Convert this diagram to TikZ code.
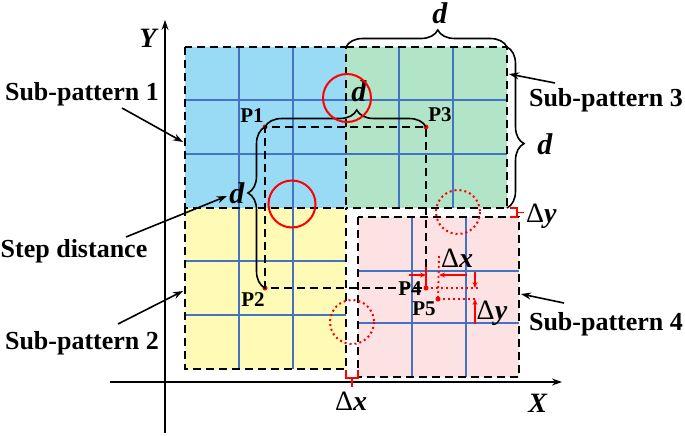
\documentclass[tikz,border=0pt]{standalone}
\usepackage{fontspec}
\setmainfont{Liberation Serif}
\usetikzlibrary{arrows.meta,decorations.pathreplacing}
\definecolor{cblue}{RGB}{153,218,245}
\definecolor{cgreen}{RGB}{178,228,200}
\definecolor{cyellow}{RGB}{255,250,182}
\definecolor{cpink}{RGB}{252,226,226}
\definecolor{gridc}{RGB}{68,114,196}
\newcommand{\bi}[1]{\textbf{\textit{#1}}}
\begin{document}
\begin{tikzpicture}[x=1pt,y=-1pt,
  gridln/.style={gridc,line width=2pt},
  border/.style={black,line width=2.3pt,dash pattern=on 8pt off 5pt},
  lbl/.style={font=\fontsize{26}{28}\selectfont\bfseries,inner sep=0pt},
  plbl/.style={font=\fontsize{21}{23}\selectfont\bfseries,inner sep=0pt},
  mlbl/.style={font=\fontsize{30}{32}\selectfont,inner sep=0pt},
  dlbl/.style={font=\fontsize{28}{30}\selectfont,inner sep=0pt},
  ann/.style={black,line width=1.6pt,-{Stealth[length=10pt,width=7pt]}},
  axisln/.style={black,line width=1.6pt},
  brc/.style={decorate,black,line width=1.6pt,decoration={brace,amplitude=17pt,aspect=#1}},
  ptdot/.style={circle,fill=red,inner sep=0pt,minimum size=5pt},
  redc/.style={red,line width=1.8pt},
  redd/.style={red,line width=1.8pt,dash pattern=on 2pt off 3pt},
  reda/.style={red,line width=1.8pt,-{Stealth[length=6pt,width=5pt]}},
  redcircle/.style={red,line width=2pt},
  dotcircle/.style={red,line width=2pt,dash pattern=on 2pt off 3pt}
]
\useasboundingbox (0,0) rectangle (685,436);

% fills
\fill[cblue] (185,47) rectangle (346,208);
\fill[cgreen] (346,47) rectangle (507,208);
\fill[cyellow] (185,208) rectangle (346,369);
\fill[cpink] (358,217) rectangle (519,377);

% grid lines
\foreach \y in {100,154} \draw[gridln] (185,\y) -- (507,\y);
\foreach \x in {239,293} \draw[gridln] (\x,47) -- (\x,369);
\foreach \x in {399,453} \draw[gridln] (\x,47) -- (\x,208);
\foreach \y in {261,315} \draw[gridln] (185,\y) -- (346,\y);
\foreach \x in {412,466} \draw[gridln] (\x,217) -- (\x,377);
\foreach \y in {271,323} \draw[gridln] (358,\y) -- (519,\y);

% axes
\coordinate (xs) at (110,382);
\coordinate (xe) at (562,382);
\coordinate (ys) at (165,433);
\coordinate (ye) at (165,20);
\draw[axisln,-{Stealth[length=10pt,width=7pt]}] (xs) -- (xe);
\draw[axisln,-{Stealth[length=10pt,width=7pt]}] (ys) -- (ye);
\node[dlbl] (ylab) at (149,38) {\bi{Y}};
\node[dlbl] (xlab) at (538,403) {\bi{X}};

% borders
\draw[border] (185,47) rectangle (346,208);
\draw[border] (346,47) -- (507,47) -- (507,208) -- (346,208);
\draw[border] (185,208) -- (185,369) -- (346,369) -- (346,208);
\draw[border] (358,217) rectangle (519,377);

% points
\node[ptdot] (P1) at (265,127) {};
\node[ptdot] (P3) at (426,127) {};
\node[ptdot] (P2) at (265,288) {};
\node[ptdot] (P4) at (426,288) {};
\node[ptdot] (P5) at (438,299) {};
\coordinate (P4up) at (426,267);

% inner dashed path
\draw[border,line width=2pt] (P4up) -- (P3.center) -- (P1.center) -- (P2.center) -- (P4.center);
\draw[redc] (P4up) -- (P4.center);

% braces
\draw[brc=0.57] (346,47) -- (507,47);
\draw[brc=0.6] (507,47) -- (507,208);
\draw[brc=0.57] (P1.center) -- (P3.center);
\draw[brc=0.59] (P2.center) -- (P1.center);
\node[mlbl] (dtop) at (440,13) {\bi{d}};
\node[mlbl] (dright) at (545,144) {\bi{d}};
\node[mlbl] (dmid) at (359,91) {\bi{d}};
\node[mlbl] (dstep) at (237,193) {\bi{d}};

% circles
\draw[redcircle] (347,98) circle (24);
\draw[redcircle] (292,204) circle (23.5);
\draw[dotcircle] (458,212) circle (22);
\draw[dotcircle] (352,322) circle (22);

% delta brackets
\draw[redc] (510,208) -- (517,208) -- (517,217) -- (510,217);
\draw[redc] (517,212.5) -- (524,212.5);
\node[dlbl,anchor=west] (dyr) at (526,216) {Δ\bi{y}};
\draw[redc] (346,370) -- (346,378) -- (358,378) -- (358,370);
\draw[redc] (352,378) -- (352,387);
\node[dlbl] (dxb) at (351,401) {Δ\bi{x}};

% P4/P5 offsets
\coordinate (dxl) at (409,275);
\coordinate (dxr) at (467,275);
\coordinate (dyt) at (475,272);
\coordinate (dyb) at (475,324);
\draw[redd] (439,256) -- (P5.center);
\draw[redd] (P4.center) -- (478,288);
\draw[redd] (P5.center) -- (478,299);
\draw[reda] (dxl) -- (426,275);
\draw[reda] (dxr) -- (439,275);
\draw[reda] (dyt) -- (475,288);
\draw[reda] (dyb) -- (475,299);
\node[dlbl] (dxs) at (457,258) {Δ\bi{x}};
\node[dlbl] (dys) at (492,313) {Δ\bi{y}};

% point labels
\node[plbl] (l1) at (252,116) {P1};
\node[plbl] (l3) at (440,115) {P3};
\node[plbl] (l2) at (253,300) {P2};
\node[plbl] (l4) at (410,289) {P4};
\node[plbl] (l5) at (424,309) {P5};

% sub-pattern labels
\node[lbl] (sp1) at (82,94) {Sub-pattern 1};
\node[lbl] (sd) at (74,251) {Step distance};
\node[lbl] (sp2) at (82,343) {Sub-pattern 2};
\node[lbl] (sp3) at (606,100) {Sub-pattern 3};
\node[lbl] (sp4) at (606,324) {Sub-pattern 4};

\coordinate (a1) at (122,108);
\coordinate (t1) at (183,142);
\coordinate (a2) at (118,324);
\coordinate (t2) at (183,291);
\coordinate (a3) at (555,83);
\coordinate (t3) at (509,74);
\coordinate (a4) at (564,303);
\coordinate (t4) at (521,294);
\coordinate (as) at (126,237);
\coordinate (ts) at (227,196);
\draw[ann] (a1) -- (t1);
\draw[ann] (a2) -- (t2);
\draw[ann] (a3) -- (t3);
\draw[ann] (a4) -- (t4);
\draw[ann] (as) -- (ts);
\end{tikzpicture}
\end{document}
